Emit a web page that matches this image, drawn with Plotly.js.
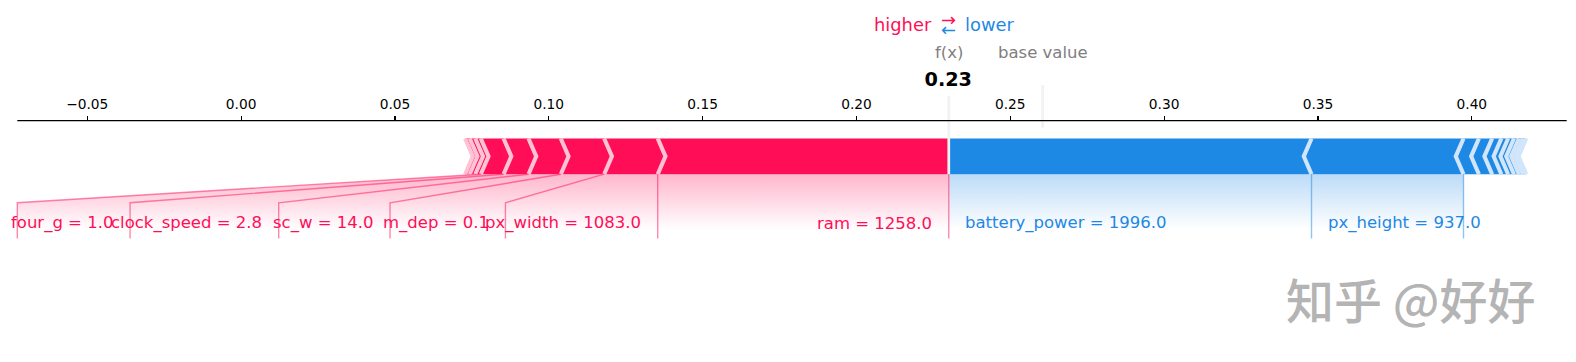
<!DOCTYPE html>
<html>
<head>
<meta charset="utf-8">
<script src="https://cdn.plot.ly/plotly-3.0.1.min.js"></script>
<style>
html, body { margin: 0; padding: 0; background: #ffffff; }
#chart { width: 1576px; height: 362px; }
</style>
</head>
<body>
<div id="chart"></div>
<script>
// ================= DATA =================
const baseValue = 0.2605;
const outName = "f(x)";
// features pushing the prediction higher (red), largest first
const posNames = ["ram", "px_width", "m_dep", "sc_w", "clock_speed", "four_g"];
const posFeatureValues = ["1258.0", "1083.0", "0.1", "14.0", "2.8", "1.0"];
const posShap = [0.0946, 0.0174, 0.0141, 0.0105, 0.0081, 0.0074];
const posOtherShap = [0.0018, 0.0018, 0.0015];          // small unlabeled features
// features pushing the prediction lower (blue), largest first
const negNames = ["battery_power", "px_height"];
const negFeatureValues = ["1996.0", "937.0"];
const negShap = [0.1179, 0.0494];
const negOtherShap = [0.0050, 0.0043, 0.0030, 0.0022, 0.0019, 0.0016, 0.0013, 0.0011];
// axis ticks
const tickValues = [-0.05, 0.00, 0.05, 0.10, 0.15, 0.20, 0.25, 0.30, 0.35, 0.40];

// ================= STYLE / LAYOUT CONSTANTS =================
const W = 1576, H = 362;
const AX_LEFT = 17.3, AX_RIGHT = 1566.7;     // axes box (px)
const Y0_PX = 174.2, PX_PER_Y = 357;         // pixel row of y=0 and px per y-unit
const PT = 99 / 72;                          // px per point
const FONT = "DejaVu Sans";
const LABEL_SIZE = 12 * PT, TICK_SIZE = 10 * PT, HL_SIZE = 13 * PT, OUT_SIZE = 14 * PT;
const DESC = 0.236;                          // DejaVu descent (em)
const BASELINE_NUDGE = 1.5;                  // px
const RED = "#FF0D57", RED_LIGHT = "#FFC3D5";
const BLUE = "#1E88E5", BLUE_LIGHT = "#D1E6FA";
const BAR_W = 0.1;
const MIN_PERC = 0.02;
const BBOX_PAD = 4 * PT;

// ================= COMPUTATION =================
const sum = a => a.reduce((s, v) => s + v, 0);
const pos = posShap.map((v, i) => ({ v, text: posNames[i] + " = " + posFeatureValues[i] }))
  .concat(posOtherShap.map(v => ({ v, text: null })));
const neg = negShap.map((v, i) => ({ v, text: negNames[i] + " = " + negFeatureValues[i] }))
  .concat(negOtherShap.map(v => ({ v, text: null })));
const totalPos = sum(pos.map(f => f.v));
const totalNeg = sum(neg.map(f => f.v));
const outValue = baseValue + totalPos - totalNeg;
const totalEffect = totalPos + totalNeg;
const offsetText = totalEffect * 0.01566;
const padding = 0.07 * Math.max(totalPos, totalNeg);

const posBounds = [outValue];
pos.forEach(f => posBounds.push(posBounds[posBounds.length - 1] - f.v));
const negBounds = [outValue];
neg.forEach(f => negBounds.push(negBounds[negBounds.length - 1] + f.v));

const minX0 = Math.min(posBounds[posBounds.length - 1], baseValue) - padding;
const maxX0 = Math.max(negBounds[negBounds.length - 1], baseValue) + padding;
const axW = AX_RIGHT - AX_LEFT;
const unitMeasure = (maxX0 - minX0) / axW;

const cv = document.createElement("canvas").getContext("2d");
cv.font = LABEL_SIZE + "px '" + FONT + "'";
const measure = t => cv.measureText(t).width;

function layoutLabels(feats, bounds, type) {
  const sign = type === "pos" ? 1 : -1;
  let start = outValue, pre = outValue, boxEnd = outValue;
  const lines = [], texts = [];
  if (type === "pos") lines.push([[outValue, outValue], [0, -0.18]]);
  for (let i = 0; i < feats.length; i++) {
    const f = feats[i];
    const val = bounds[i + 1];
    if (f.text === null) break;
    if (Math.abs(val - pre) / totalEffect < MIN_PERC) break;
    const anchor = start - sign * offsetText;
    texts.push({ x: anchor, text: f.text, anchor: type === "pos" ? "right" : "left" });
    const boxEndRaw = anchor - sign * (measure(f.text) + BBOX_PAD) * unitMeasure;
    if (sign * boxEndRaw > sign * val) {
      lines.push([[val, val], [0, -0.18]]);
      start = val; boxEnd = val;
    } else {
      boxEnd = boxEndRaw - sign * offsetText;
      lines.push([[val, boxEnd, boxEnd], [0, -0.08, -0.18]]);
      start = boxEnd;
    }
    pre = val;
  }
  return { lines, texts, pre, boxEnd };
}

const negLab = layoutLabels(neg, negBounds, "neg");
const posLab = layoutLabels(pos, posBounds, "pos");

const xMin = Math.min(minX0, posLab.boxEnd);
const xMax = Math.max(maxX0, negLab.boxEnd);
const ppu = axW / (xMax - xMin);
const xRange = [xMin - AX_LEFT / ppu, xMax + (W - AX_RIGHT) / ppu];
const yRange = [-(H - Y0_PX) / PX_PER_Y, Y0_PX / PX_PER_Y];
const axisPos = (0.15 - yRange[0]) / (yRange[1] - yRange[0]);
const ws = (xMax - xMin) / 200;

// bar polygons
function barGeometry(bounds, type) {
  const rx = [], ry = [], sx = [], sy = [];
  for (let i = 0; i < bounds.length - 1; i++) {
    let left, right, ind, sepPos;
    if (type === "pos") { left = bounds[i + 1]; right = bounds[i]; ind = ws; sepPos = left; }
    else { left = bounds[i]; right = bounds[i + 1]; ind = -ws; sepPos = right; }
    let pts;
    if (i === 0) {
      pts = type === "pos"
        ? [[left, 0], [right, 0], [right, BAR_W], [left, BAR_W], [left + ind, BAR_W / 2]]
        : [[right, 0], [left, 0], [left, BAR_W], [right, BAR_W], [right + ind, BAR_W / 2]];
    } else {
      pts = [[left, 0], [right, 0], [right + ind * 0.9, BAR_W / 2], [right, BAR_W],
             [left, BAR_W], [left + ind * 0.9, BAR_W / 2]];
    }
    pts.forEach(p => { rx.push(p[0]); ry.push(p[1]); });
    rx.push(null); ry.push(null);
    [[sepPos, 0], [sepPos + ind, BAR_W / 2], [sepPos, BAR_W]].forEach(p => { sx.push(p[0]); sy.push(p[1]); });
    sx.push(null); sy.push(null);
  }
  return { rx, ry, sx, sy };
}
const negBar = barGeometry(negBounds, "neg");
const posBar = barGeometry(posBounds, "pos");

const traces = [];
// shading
function shading(lab, topColor) {
  const px = [outValue, lab.pre, lab.boxEnd, lab.boxEnd, outValue, outValue];
  const py = [0, 0, -0.08, -0.2, -0.2, 0];
  return {
    x: px, y: py, mode: "lines", fill: "toself", line: { width: 0 },
    fillcolor: "rgba(0,0,0,0)",
    fillgradient: { type: "vertical", start: -0.155, stop: 0,
      colorscale: [[0, "rgb(255,255,255)"], [1, topColor]] },
    hoverinfo: "skip", showlegend: false
  };
}
traces.push(shading(negLab, "rgb(188,219,247)"));
traces.push(shading(posLab, "rgb(255,182,205)"));

function poly(x, y, color) {
  return { x, y, mode: "lines", fill: "toself", fillcolor: color, line: { width: 0, color: color },
    hoverinfo: "skip", showlegend: false, connectgaps: false };
}
function polyline(x, y, color, width) {
  return { x, y, mode: "lines", line: { width, color }, hoverinfo: "skip", showlegend: false, connectgaps: false };
}
traces.push(poly(negBar.rx, negBar.ry, BLUE));
traces.push(polyline(negBar.sx, negBar.sy, BLUE_LIGHT, 3 * PT));
traces.push(poly(posBar.rx, posBar.ry, RED));
traces.push(polyline(posBar.sx, posBar.sy, RED_LIGHT, 3 * PT));

// label connector lines
function connectors(lab, color) {
  const x = [], y = [];
  lab.lines.forEach(l => { l[0].forEach((v, i) => { x.push(v); y.push(l[1][i]); }); x.push(null); y.push(null); });
  return polyline(x, y, color, 1 * PT);
}
traces.push(connectors(negLab, "rgba(30,136,229,0.5)"));
traces.push(connectors(posLab, "rgba(255,13,87,0.5)"));

// base value and output lines
traces.push(polyline([baseValue, baseValue], [0.13, 0.25], "#F2F2F2", 2 * PT));
traces.push(polyline([outValue, outValue], [0, 0.24], "#F2F2F2", 2 * PT));
// top spine
traces.push(polyline([xMin, xMax], [0.15, 0.15], "#000000", 0.8 * PT));

// annotations
function txt(x, y, text, size, color, xanchor, extra) {
  const a = {
    x, y, xref: "x", yref: "y", text, showarrow: false, xanchor, yanchor: "bottom",
    yshift: -(DESC * size) - BASELINE_NUDGE, borderpad: 0, borderwidth: 0,
    font: { family: FONT, size, color }
  };
  return Object.assign(a, extra || {});
}
const annotations = [];
negLab.texts.forEach(t => annotations.push(txt(t.x, -0.15, t.text, LABEL_SIZE, BLUE, t.anchor)));
posLab.texts.forEach(t => annotations.push(txt(t.x, -0.15, t.text, LABEL_SIZE, RED, t.anchor)));
annotations.push(txt(outValue - offsetText, 0.405, "higher", HL_SIZE, RED, "right"));
annotations.push(txt(outValue + offsetText, 0.405, "lower", HL_SIZE, BLUE, "left"));
annotations.push(txt(outValue, 0.4, "\u2190", HL_SIZE, BLUE, "center", { yshift: -(DESC * HL_SIZE) - 4 }));
annotations.push(txt(outValue, 0.425, "\u2192", HL_SIZE, RED, "center", { yshift: -(DESC * HL_SIZE) - 3 }));
annotations.push(txt(baseValue, 0.33, "base value", LABEL_SIZE, "#808080", "center"));
annotations.push(txt(outValue, 0.33, outName, LABEL_SIZE, "#808080", "center"));
annotations.push(txt(outValue, 0.25, outValue.toFixed(2), OUT_SIZE, "#000000", "center",
  { bgcolor: "#ffffff", borderpad: BBOX_PAD, yshift: -(DESC * OUT_SIZE + BBOX_PAD) - BASELINE_NUDGE,
    font: { family: FONT, size: OUT_SIZE, color: "#000000", weight: "bold" } }));
// watermark
annotations.push({
  x: 1410 / W, y: 1 - 297.5 / H, xref: "paper", yref: "paper", showarrow: false,
  xanchor: "center", yanchor: "middle", text: "知乎 @好好",
  font: { family: "Noto Sans CJK SC", size: 48, color: "rgba(175,175,175,0.95)", weight: 500 }
});

const layout = {
  width: W, height: H,
  margin: { l: 0, r: 0, t: 0, b: 0, pad: 0 },
  paper_bgcolor: "#ffffff", plot_bgcolor: "rgba(0,0,0,0)",
  showlegend: false, hovermode: false,
  xaxis: {
    range: xRange, side: "top", anchor: "free", position: axisPos,
    showgrid: false, zeroline: false, showline: false,
    tickmode: "array", tickvals: tickValues,
    ticktext: tickValues.map(v => (v < 0 ? "\u2212" : "") + Math.abs(v).toFixed(2)),
    ticks: "outside", ticklen: 3.5 * PT, tickwidth: 0.8 * PT, tickcolor: "#000000",
    ticklabelstandoff: 1,
    tickfont: { family: FONT, size: TICK_SIZE, color: "#000000" },
    fixedrange: true
  },
  yaxis: { range: yRange, visible: false, fixedrange: true },
  annotations
};

Plotly.newPlot("chart", traces, layout, { staticPlot: true, displayModeBar: false });
</script>
</body>
</html>
